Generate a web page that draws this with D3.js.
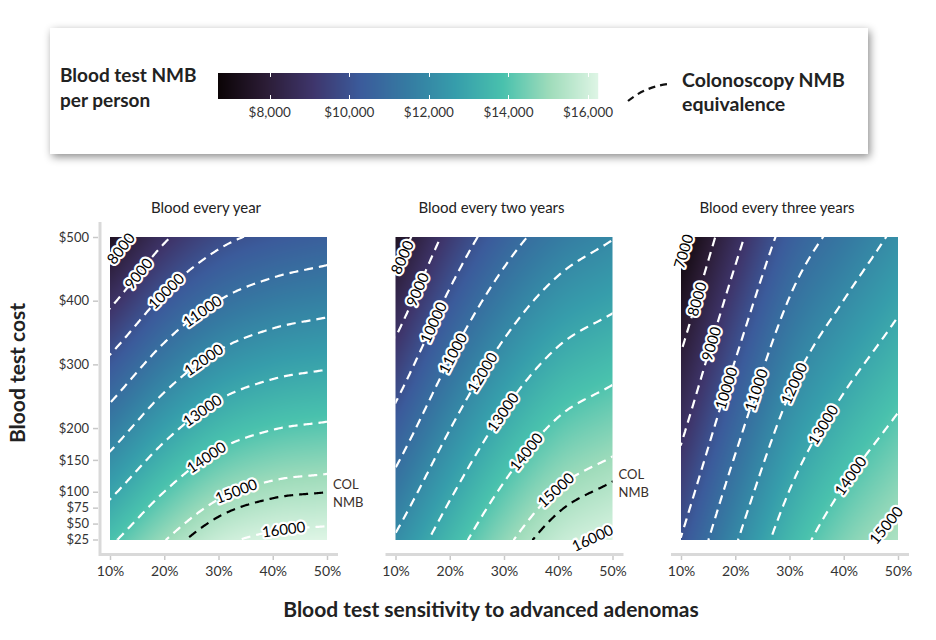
<!DOCTYPE html>
<html>
<head>
<meta charset="utf-8">
<script src="https://cdn.jsdelivr.net/npm/d3@7"></script>
<style>
  body { margin: 0; background: #fff; }
  svg { font-family: Lato, "Open Sans", sans-serif; }
</style>
</head>
<body>
<svg id="chart" width="936" height="640"></svg>
<script>
// grid the NMB values were read on: sensitivity columns (%) and cost rows ($)
const sensitivities = [10, 20, 30, 40, 50];
const testCosts = [25, 100, 200, 300, 400, 500];

// blood test NMB per person, one row per test cost, one column per sensitivity
const nmbEveryYear = [
    [13840, 14962, 15808, 16163, 16256],
    [12840, 14000, 14846, 15221, 15341],
    [11513, 12718, 13564, 13965, 14121],
    [10208, 11436, 12282, 12709, 12901],
    [8836, 10154, 11000, 11452, 11681],
    [7466, 8872, 9760, 10200, 10461]
];
const nmbEveryTwoYears = [
    [12098, 13549, 14801, 15729, 16160],
    [11366, 12874, 14134, 15054, 15493],
    [10390, 11974, 13244, 14154, 14603],
    [9414, 11074, 12354, 13254, 13713],
    [8438, 10174, 11464, 12354, 12823],
    [7462, 9274, 10574, 11454, 11960]
];
const nmbEveryThreeYears = [
    [10028, 11905, 13511, 14576, 15300],
    [9511, 11398, 13016, 14062, 14813],
    [8821, 10723, 12356, 13377, 14163],
    [8131, 10048, 11696, 12692, 13488],
    [7441, 9373, 11036, 12007, 12838],
    [6751, 8698, 10376, 11322, 12188]
];

const panelTitles = ["Blood every year", "Blood every two years", "Blood every three years"];
const contourLevels = [7000, 8000, 9000, 10000, 11000, 12000, 13000, 14000, 15000, 16000];
const colonoscopyNmb = 15350;
const costTicks = [25, 50, 75, 100, 150, 200, 300, 400, 500];
const sensTicks = [10, 20, 30, 40, 50];
const legendTicks = [8000, 10000, 12000, 14000, 16000];

// contour label anchors in data units: [level, sensitivity, cost]
const labelSpots = [
    [[8000, 11.8, 482], [9000, 15.2, 443], [10000, 20.4, 414], [11000, 27.2, 380], [12000, 27.2, 307],
     [13000, 27.2, 226], [14000, 27.8, 153], [15000, 33.3, 98], [16000, 41.9, 41]],
    [[8000, 10.7, 471], [9000, 13.8, 419], [10000, 16.6, 367], [11000, 20.2, 320], [12000, 25.5, 289],
     [13000, 29.4, 229], [14000, 34.0, 163], [15000, 39.6, 103], [16000, 46.0, 35]],
    [[7000, 10.7, 477], [8000, 13.2, 401], [9000, 15.6, 333], [10000, 18.1, 262], [11000, 23.6, 262],
     [12000, 30.7, 270], [13000, 35.9, 205], [14000, 41.1, 127], [15000, 47.9, 48]]
];

const grids = [nmbEveryYear, nmbEveryTwoYears, nmbEveryThreeYears];

// mako-like palette
const makoColors = ["#0b0405", "#2b1c35", "#3e356b", "#3b5b9b", "#357ba2", "#369dab", "#49c1ad", "#a0dcbb", "#def5e5"];
const color = d3.scaleSequential(d3.piecewise(d3.interpolateRgb, makoColors)).domain([6700, 16250]);

// cubic hermite along sensitivity, linear along cost
function rowValue(row, s) {
    let n = sensitivities.length;
    let k = Math.max(0, Math.min(n - 2, d3.bisectRight(sensitivities, s) - 1));
    let h = sensitivities[k + 1] - sensitivities[k];
    let t = (s - sensitivities[k]) / h;
    let slope = i => i === 0 ? row[1] - row[0]
        : i === n - 1 ? row[n - 1] - row[n - 2]
        : (row[i + 1] - row[i - 1]) / 2;
    let m0 = slope(k), m1 = slope(k + 1);
    let t2 = t * t, t3 = t2 * t;
    return (2 * t3 - 3 * t2 + 1) * row[k] + (t3 - 2 * t2 + t) * m0
        + (-2 * t3 + 3 * t2) * row[k + 1] + (t3 - t2) * m1;
}

function nmbAt(grid, s, c) {
    s = Math.max(10, Math.min(50, s));
    c = Math.max(25, Math.min(500, c));
    let k = Math.max(0, Math.min(testCosts.length - 2, d3.bisectRight(testCosts, c) - 1));
    let t = (c - testCosts[k]) / (testCosts[k + 1] - testCosts[k]);
    return rowValue(grid[k], s) * (1 - t) + rowValue(grid[k + 1], s) * t;
}

let svg = d3.select("#chart");

let defs = svg.append("defs");
defs.append("filter")
    .attr("id", "shadow")
    .attr("x", "-5%").attr("y", "-20%")
    .attr("width", "110%").attr("height", "150%")
    .append("feDropShadow")
    .attr("dx", 2).attr("dy", 3)
    .attr("stdDeviation", 4)
    .attr("flood-color", "#000")
    .attr("flood-opacity", 0.45);

// ---------- legend ----------
svg.append("rect")
    .attr("x", 50).attr("y", 28)
    .attr("width", 818).attr("height", 126)
    .attr("fill", "#fff")
    .attr("filter", "url(#shadow)");

let legTitle = svg.append("text")
    .attr("x", 60).attr("y", 82)
    .attr("font-size", "19px")
    .attr("font-weight", "bold")
    .attr("fill", "#222");
legTitle.append("tspan").attr("x", 60).text("Blood test NMB");
legTitle.append("tspan").attr("x", 60).attr("dy", 25).text("per person");

let legX = d3.scaleLinear().domain(color.domain()).range([218, 598]);
let barTop = 73, barH = 26;
svg.append("g").selectAll("rect")
    .data(d3.range(218, 598))
    .enter()
    .append("rect")
    .attr("x", d => d)
    .attr("y", barTop)
    .attr("width", 1.2)
    .attr("height", barH)
    .attr("fill", d => color(legX.invert(d + 0.5)));

let legTick = svg.append("g");
legendTicks.forEach(v => {
    let px = Math.round(legX(v)) + 0.5;
    legTick.append("line").attr("x1", px).attr("x2", px).attr("y1", barTop).attr("y2", barTop + 4)
        .attr("stroke", "#fff").attr("stroke-width", 1);
    legTick.append("line").attr("x1", px).attr("x2", px).attr("y1", barTop + barH - 4).attr("y2", barTop + barH)
        .attr("stroke", "#fff").attr("stroke-width", 1);
    legTick.append("text")
        .attr("x", legX(v)).attr("y", 117)
        .attr("text-anchor", "middle")
        .attr("font-size", "13.5px")
        .attr("fill", "#333")
        .text("$" + d3.format(",")(v));
});

svg.append("path")
    .attr("d", "M628,101 Q645,87 668,84")
    .attr("fill", "none")
    .attr("stroke", "#111")
    .attr("stroke-width", 2.2)
    .attr("stroke-dasharray", "7,5");

let colTitle = svg.append("text")
    .attr("x", 682).attr("y", 87)
    .attr("font-size", "19.5px")
    .attr("font-weight", "bold")
    .attr("fill", "#222");
colTitle.append("tspan").attr("x", 682).text("Colonoscopy NMB");
colTitle.append("tspan").attr("x", 682).attr("dy", 24).text("equivalence");

// ---------- panels ----------
let y = d3.scaleLinear().domain([25, 500]).range([539.5, 237]);
let panelW = 217;
let axisGrey = "#d9d9d9";

// y axis only on the first panel
svg.append("line")
    .attr("x1", 100).attr("x2", 100)
    .attr("y1", 222).attr("y2", 556)
    .attr("stroke", axisGrey).attr("stroke-width", 3);

let yAxis = svg.append("g")
    .attr("transform", "translate(98, 0)")
    .call(d3.axisLeft(y).tickValues(costTicks).tickFormat(d => "$" + d).tickSize(5).tickPadding(4));
yAxis.select(".domain").remove();
yAxis.selectAll(".tick line").attr("stroke", "#c8c8c8").attr("stroke-width", 1.5);
yAxis.selectAll(".tick text").attr("font-size", "13px").attr("fill", "#333").attr("font-family", "Lato");

grids.forEach((grid, p) => {
    let x0 = 110 + p * 285.5;
    let x = d3.scaleLinear().domain([10, 50]).range([x0, x0 + panelW]);
    let g = svg.append("g");

    // title, centred on the facet strip (a bit left of the raster)
    g.append("text")
        .attr("x", x0 + panelW / 2 - 12.5)
        .attr("y", 213)
        .attr("text-anchor", "middle")
        .attr("font-size", "15px")
        .attr("fill", "#222")
        .text(panelTitles[p]);

    // heatmap raster drawn through the scales
    let yTop = y(500), H = Math.round(y(25) - yTop);
    let canvas = document.createElement("canvas");
    canvas.width = panelW;
    canvas.height = H;
    let ctx = canvas.getContext("2d");
    let img = ctx.createImageData(panelW, H);
    for (let py = 0; py < H; py++) {
        let c = y.invert(yTop + py + 0.5);
        for (let px = 0; px < panelW; px++) {
            let s = x.invert(x0 + px + 0.5);
            let col = d3.rgb(color(nmbAt(grid, s, c)));
            let i = (py * panelW + px) * 4;
            img.data[i] = col.r;
            img.data[i + 1] = col.g;
            img.data[i + 2] = col.b;
            img.data[i + 3] = 255;
        }
    }
    ctx.putImageData(img, 0, 0);
    g.append("image")
        .attr("href", canvas.toDataURL())
        .attr("x", x0).attr("y", yTop)
        .attr("width", panelW).attr("height", H)
        .attr("preserveAspectRatio", "none");

    // contours on a fine grid, padded so the frame edges fall outside the clip
    let pad = 4;
    let nx = 161 + 2 * pad, ny = 191 + 2 * pad;
    let ds = 40 / 160, dc = 475 / 190;
    let values = new Array(nx * ny);
    for (let j = 0; j < ny; j++) {
        for (let i = 0; i < nx; i++) {
            values[j * nx + i] = nmbAt(grid, 10 + (i - pad) * ds, 25 + (j - pad) * dc);
        }
    }
    let levels = contourLevels.concat([colonoscopyNmb]);
    let contours = d3.contours().size([nx, ny]).thresholds(levels)(values);
    let toPx = pt => [x(10 + (pt[0] - 0.5 - pad) * ds), y(25 + (pt[1] - 0.5 - pad) * dc)];

    let clipId = "clip" + p;
    defs.append("clipPath").attr("id", clipId)
        .append("rect")
        .attr("x", x0).attr("y", yTop)
        .attr("width", panelW).attr("height", H);

    let lineG = g.append("g").attr("clip-path", "url(#" + clipId + ")");
    let ringsByLevel = {};
    contours.forEach(ct => {
        let rings = [];
        ct.coordinates.forEach(poly => poly.forEach(ring => rings.push(ring.map(toPx))));
        ringsByLevel[ct.value] = rings;
        if (!rings.length) return;
        let isCol = ct.value === colonoscopyNmb;
        lineG.append("path")
            .attr("d", rings.map(r => "M" + r.map(q => q[0].toFixed(2) + "," + q[1].toFixed(2)).join("L")).join(""))
            .attr("fill", "none")
            .attr("stroke", isCol ? "#000" : "#fff")
            .attr("stroke-width", 2.2)
            .attr("stroke-dasharray", "9,6");
    });

    // contour labels
    labelSpots[p].forEach(([level, s, c]) => {
        let rings = ringsByLevel[level] || [];
        let tx = x(s), ty = y(c);
        let best = null;
        rings.forEach(r => r.forEach((q, i) => {
            if (q[0] < x0 || q[0] > x0 + panelW || q[1] < yTop || q[1] > yTop + H) return;
            let d = (q[0] - tx) ** 2 + (q[1] - ty) ** 2;
            if (!best || d < best.d) best = {d: d, r: r, i: i};
        }));
        if (!best) return;
        let r = best.r, n = r.length;
        let a = r[(best.i - 4 + n) % n], b = r[(best.i + 4) % n], q = r[best.i];
        let ang = Math.atan2(b[1] - a[1], b[0] - a[0]) * 180 / Math.PI;
        if (ang > 90) ang -= 180;
        if (ang < -90) ang += 180;
        g.append("text")
            .attr("transform", "translate(" + q[0] + "," + q[1] + ") rotate(" + ang + ")")
            .attr("text-anchor", "middle")
            .attr("dy", "0.36em")
            .attr("font-size", "15px")
            .attr("fill", "#000")
            .attr("stroke", "#fff")
            .attr("stroke-width", 4.5)
            .attr("stroke-linejoin", "round")
            .attr("paint-order", "stroke")
            .text(level);
    });

    // COL NMB tag next to the right edge
    if (nmbAt(grid, 50, 25) >= colonoscopyNmb) {
        let lo = 25, hi = 500;
        for (let k = 0; k < 40; k++) {
            let mid = (lo + hi) / 2;
            if (nmbAt(grid, 50, mid) > colonoscopyNmb) lo = mid; else hi = mid;
        }
        let yc = y(lo);
        let tag = g.append("text")
            .attr("x", x0 + panelW + 6)
            .attr("y", yc - 3)
            .attr("font-size", "13px")
            .attr("fill", "#3a2f2a");
        tag.append("tspan").attr("x", x0 + panelW + 6).text("COL");
        tag.append("tspan").attr("x", x0 + panelW + 6).attr("dy", 18).text("NMB");
    }

    // x axis
    g.append("line")
        .attr("x1", x0 - 10).attr("x2", x0 + panelW + 11)
        .attr("y1", 554.5).attr("y2", 554.5)
        .attr("stroke", axisGrey).attr("stroke-width", 3);
    let xAxis = g.append("g")
        .attr("transform", "translate(0, 556)")
        .call(d3.axisBottom(x).tickValues(sensTicks).tickFormat(d => d + "%").tickSize(4).tickPadding(6));
    xAxis.select(".domain").remove();
    xAxis.selectAll(".tick line").attr("stroke", "#c8c8c8").attr("stroke-width", 1.5);
    xAxis.selectAll(".tick text").attr("font-size", "14px").attr("fill", "#333").attr("font-family", "Lato");
});

// axis titles
svg.append("text")
    .attr("transform", "translate(25, 373) rotate(-90)")
    .attr("text-anchor", "middle")
    .attr("font-size", "21px")
    .attr("font-weight", "bold")
    .attr("fill", "#222")
    .text("Blood test cost");

svg.append("text")
    .attr("x", 491).attr("y", 617)
    .attr("text-anchor", "middle")
    .attr("font-size", "21px")
    .attr("font-weight", "bold")
    .attr("fill", "#222")
    .text("Blood test sensitivity to advanced adenomas");
</script>
</body>
</html>
